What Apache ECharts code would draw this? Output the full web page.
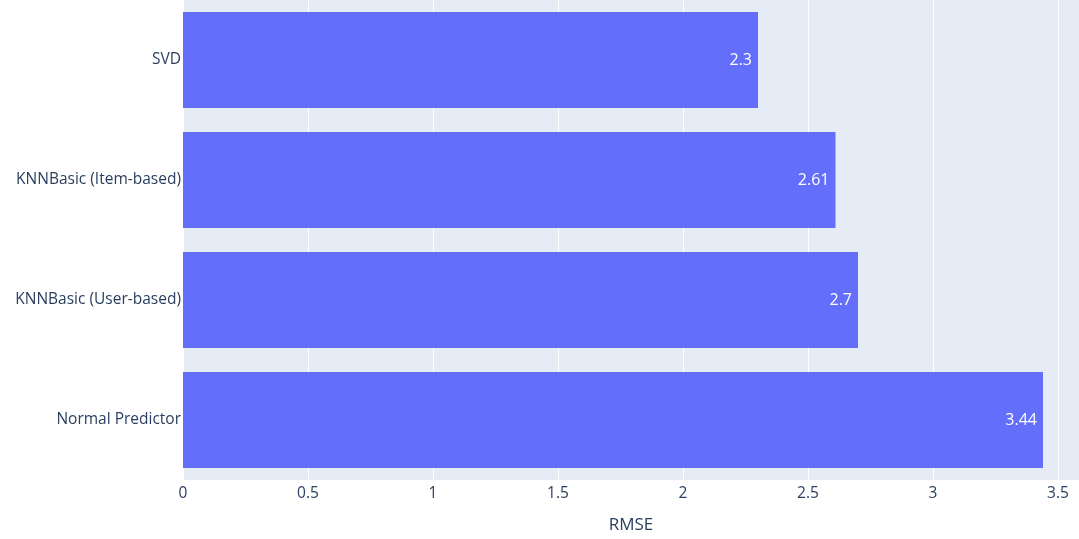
<!DOCTYPE html>
<html>
<head>
<meta charset="utf-8">
<script src="https://cdn.jsdelivr.net/npm/echarts@6/dist/echarts.min.js"></script>
<style>html,body{margin:0;padding:0;background:#fff}#main{width:1079px;height:539px}</style>
</head>
<body>
<div id="main"></div>
<script>
// data, bottom to top as echarts draws a category y axis
var models = ['Normal Predictor', 'KNNBasic (User-based)', 'KNNBasic (Item-based)', 'SVD']
var rmse = [3.44, 2.7, 2.61, 2.3]
var font = '"Open Sans", sans-serif'
var chart = echarts.init(document.getElementById('main'))
chart.setOption({
  animation: false,
  textStyle: { fontFamily: font },
  grid: {
    left: 183, right: 0, top: 0, bottom: 53,
    show: true, backgroundColor: '#E5ECF6', borderWidth: 0
  },
  xAxis: {
    type: 'value', min: 0, max: 3.584, interval: 0.5,
    name: 'RMSE', nameLocation: 'middle', nameGap: 37,
    nameTextStyle: { color: '#2a3f5f', fontSize: 17, fontFamily: font },
    axisLine: { show: false }, axisTick: { show: false },
    splitLine: { lineStyle: { color: '#fff', width: 1 } },
    axisLabel: { color: '#2a3f5f', fontSize: 15.5, margin: 6, showMaxLabel: false, fontFamily: font }
  },
  yAxis: {
    type: 'category', data: models,
    axisLine: { show: false }, axisTick: { show: false },
    axisLabel: { color: '#2a3f5f', fontSize: 15.5, margin: 2, fontFamily: font }
  },
  series: [{
    type: 'bar', data: rmse, barCategoryGap: '20%',
    itemStyle: { color: '#636EFA' },
    label: { show: true, position: 'insideRight', color: '#fff', fontSize: 16, offset: [-1, 0], fontFamily: font }
  }]
})
</script>
</body>
</html>
